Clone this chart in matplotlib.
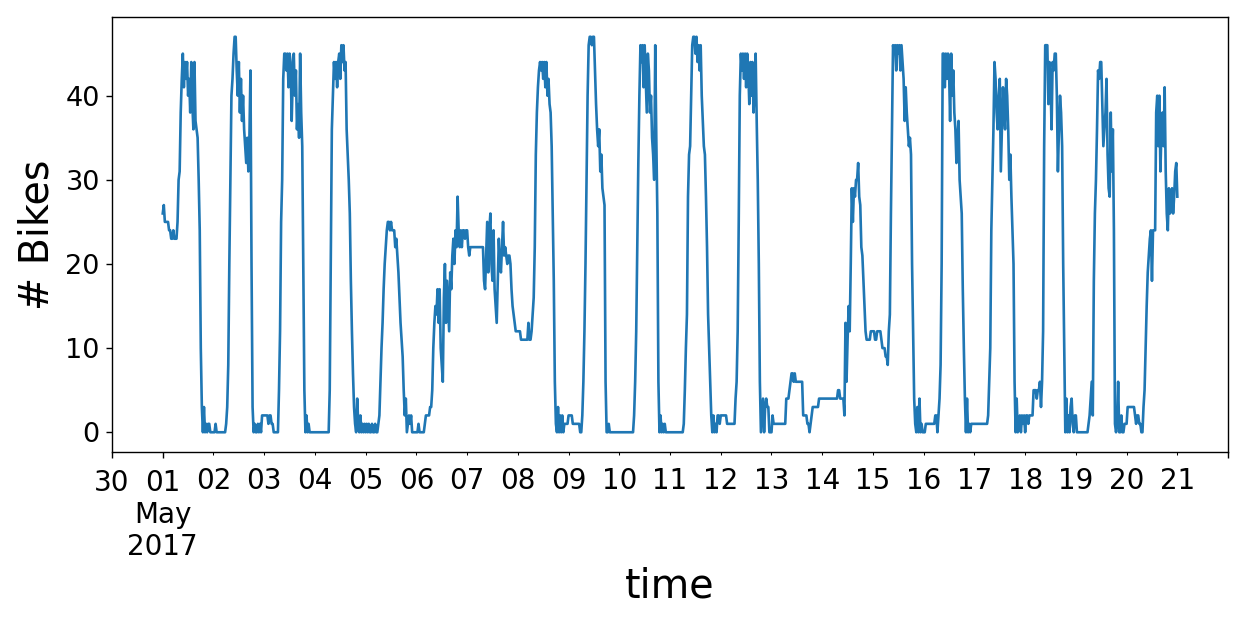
import numpy as np
import pandas as pd
import matplotlib
matplotlib.use('Agg')
import matplotlib.pyplot as plt

# bikes at the station, one value every 30 minutes, one list per day (May 2017)
may01 = [26, 27, 25, 25, 25, 25, 24, 24, 23, 23, 24, 23, 23, 23, 25, 30, 31, 38, 42, 45, 41, 44, 42, 44,
         40, 42, 38, 44, 39, 36, 44, 37, 36, 35, 30, 24, 10, 3, 0, 3, 0, 1, 0, 1, 1, 0, 0, 0]
may02 = [0, 0, 1, 0, 0, 0, 0, 0, 0, 0, 0, 0, 1, 3, 8, 20, 30, 40, 42, 45, 47, 47, 43, 40,
         44, 38, 42, 37, 40, 36, 34, 32, 35, 31, 35, 43, 20, 3, 0, 1, 0, 0, 1, 0, 1, 0, 2, 2]
may03 = [2, 2, 2, 2, 1, 2, 2, 1, 1, 0, 0, 0, 0, 0, 5, 12, 25, 30, 42, 45, 45, 43, 45, 41,
         45, 44, 37, 42, 45, 40, 43, 36, 39, 35, 45, 38, 34, 20, 5, 0, 2, 0, 1, 0, 0, 0, 0, 0]
may04 = [0, 0, 0, 0, 0, 0, 0, 0, 0, 0, 0, 0, 0, 0, 5, 20, 36, 40, 44, 42, 44, 41, 44, 45,
         42, 46, 44, 46, 43, 44, 36, 33, 30, 26, 18, 12, 7, 3, 1, 0, 4, 1, 0, 2, 0, 1, 0, 1]
may05 = [0, 1, 0, 1, 0, 0, 1, 0, 0, 1, 0, 0, 1, 2, 6, 10, 13, 17, 20, 22, 24, 25, 25, 24,
         25, 24, 24, 24, 22, 23, 21, 19, 16, 13, 11, 9, 5, 2, 4, 0, 1, 2, 1, 2, 0, 0, 0, 0]
may06 = [0, 0, 1, 0, 0, 0, 0, 0, 1, 2, 2, 2, 2, 3, 3, 5, 10, 13, 15, 14, 17, 13, 17, 10,
         8, 6, 16, 20, 13, 18, 15, 12, 19, 17, 21, 23, 20, 24, 22, 28, 24, 22, 24, 22, 24, 24, 23, 24]
may07 = [24, 22, 21, 22, 22, 22, 22, 22, 22, 22, 22, 22, 22, 22, 22, 22, 18, 17, 21, 25, 19, 24, 26, 20,
         18, 24, 17, 15, 13, 18, 23, 20, 19, 22, 25, 21, 22, 21, 20, 21, 21, 20, 17, 15, 14, 13, 12, 12]
may08 = [12, 12, 12, 11, 11, 11, 11, 11, 11, 11, 13, 11, 11, 12, 14, 16, 22, 33, 38, 41, 43, 44, 43, 44,
         42, 44, 41, 44, 40, 42, 39, 38, 34, 26, 18, 6, 1, 0, 3, 0, 2, 0, 2, 0, 1, 1, 1, 1]
may09 = [2, 2, 2, 2, 1, 1, 1, 1, 1, 1, 1, 0, 0, 2, 6, 12, 20, 30, 40, 46, 47, 47, 46, 47,
         47, 43, 39, 36, 34, 36, 31, 33, 29, 28, 27, 6, 0, 0, 1, 0, 0, 0, 0, 0, 0, 0, 0, 0]
may10 = [0, 0, 0, 0, 0, 0, 0, 0, 0, 0, 0, 0, 0, 0, 2, 6, 12, 22, 32, 40, 46, 44, 46, 41,
         46, 42, 38, 45, 43, 38, 40, 35, 33, 30, 46, 35, 26, 6, 0, 2, 0, 1, 0, 1, 0, 0, 0, 0]
may11 = [0, 0, 0, 0, 0, 0, 0, 0, 0, 0, 0, 0, 0, 1, 5, 10, 14, 28, 33, 34, 40, 46, 47, 47,
         45, 47, 44, 46, 43, 46, 40, 37, 34, 33, 28, 22, 14, 10, 6, 2, 0, 2, 0, 1, 0, 2, 2, 1]
may12 = [2, 2, 2, 2, 2, 2, 1, 1, 1, 1, 1, 1, 1, 1, 4, 6, 12, 25, 40, 45, 43, 45, 42, 45,
         41, 45, 43, 39, 44, 40, 44, 38, 41, 45, 37, 30, 20, 6, 0, 2, 4, 0, 3, 4, 3, 3, 0, 0]
may13 = [0, 2, 1, 1, 1, 1, 1, 1, 1, 1, 1, 1, 1, 1, 4, 4, 4, 5, 6, 7, 7, 6, 7, 6,
         6, 6, 6, 6, 6, 6, 2, 2, 2, 2, 1, 1, 0, 1, 2, 3, 3, 3, 3, 3, 3, 4, 4, 4]
may14 = [4, 4, 4, 4, 4, 4, 4, 4, 4, 4, 4, 4, 4, 4, 4, 5, 5, 4, 4, 4, 4, 2, 13, 6,
         11, 15, 12, 20, 29, 25, 29, 28, 30, 30, 32, 28, 27, 22, 21, 18, 15, 12, 11, 11, 11, 11, 12, 12]
may15 = [12, 12, 11, 11, 12, 12, 12, 12, 11, 10, 10, 10, 9, 9, 8, 12, 14, 26, 36, 46, 45, 46, 43, 46,
         45, 46, 43, 46, 44, 42, 37, 41, 38, 36, 34, 35, 33, 20, 12, 4, 1, 0, 3, 0, 4, 0, 1, 0]
may16 = [0, 0, 1, 1, 1, 1, 1, 1, 1, 1, 1, 2, 2, 0, 2, 4, 8, 20, 45, 45, 41, 45, 42, 45,
         43, 37, 45, 40, 43, 38, 36, 32, 35, 37, 30, 28, 26, 17, 10, 4, 0, 4, 0, 1, 0, 1, 1, 1]
may17 = [1, 1, 1, 1, 1, 1, 1, 1, 1, 1, 1, 1, 1, 2, 6, 10, 24, 30, 36, 44, 42, 38, 36, 40,
         42, 31, 36, 41, 38, 36, 42, 40, 36, 30, 33, 28, 24, 20, 6, 0, 4, 0, 1, 2, 0, 2, 1, 2]
may18 = [0, 2, 2, 1, 2, 2, 2, 2, 5, 5, 5, 4, 5, 5, 6, 3, 6, 12, 34, 46, 46, 46, 39, 44,
         42, 36, 44, 43, 45, 45, 40, 31, 36, 40, 38, 34, 20, 10, 0, 4, 0, 2, 0, 3, 4, 1, 0, 2]
may19 = [2, 0, 0, 0, 0, 0, 0, 0, 0, 0, 0, 0, 1, 2, 4, 6, 2, 18, 26, 30, 36, 43, 42, 44,
         44, 39, 34, 36, 38, 42, 33, 29, 28, 38, 31, 36, 24, 1, 0, 1, 6, 0, 0, 2, 0, 0, 1, 1]
may20 = [1, 3, 3, 3, 3, 3, 3, 3, 2, 1, 2, 2, 1, 1, 0, 0, 3, 5, 10, 15, 19, 21, 23, 24,
         18, 24, 24, 24, 38, 40, 34, 40, 31, 36, 38, 34, 41, 31, 26, 24, 29, 26, 27, 29, 26, 28, 31, 32, 28]

days = [may01, may02, may03, may04, may05, may06, may07, may08, may09, may10,
        may11, may12, may13, may14, may15, may16, may17, may18, may19, may20]

major_days = ['2017-04-30', '2017-05-01', '2017-05-22']
major_labels = ['30', '01\nMay\n2017', '']
minor_days = ['2017-05-02', '2017-05-03', '2017-05-04', '2017-05-05', '2017-05-06',
              '2017-05-07', '2017-05-08', '2017-05-09', '2017-05-10', '2017-05-11',
              '2017-05-12', '2017-05-13', '2017-05-14', '2017-05-15', '2017-05-16',
              '2017-05-17', '2017-05-18', '2017-05-19', '2017-05-20', '2017-05-21']
minor_labels = ['02', '03', '04', '05', '06', '07', '08', '09', '10', '11',
                '12', '13', '14', '15', '16', '17', '18', '19', '20', '21']

# build the time index, 30 min steps from midnight of each day
start = pd.Timestamp('2017-05-01')
times, bikes = [], []
for i, vals in enumerate(days):
    t0 = start + pd.Timedelta(days=i)
    times.extend(t0 + pd.Timedelta(minutes=30 * k) for k in range(len(vals)))
    bikes.extend(vals)
s = pd.Series(bikes, index=pd.DatetimeIndex(times))

fig = plt.figure(figsize=(12.46, 6.21), dpi=100)
ax = fig.add_axes([0.0899, 0.2721, 0.8957, 0.7005])

ax.plot(s.index.to_pydatetime(), s.values, color='#1f77b4', linewidth=1.9)

ax.set_xlim(pd.Timestamp('2017-04-30'), pd.Timestamp('2017-05-22'))

ax.set_xticks(pd.to_datetime(major_days).to_pydatetime(), major_labels)
ax.set_xticks(pd.to_datetime(minor_days).to_pydatetime(), minor_labels, minor=True)

ax.tick_params(axis='x', which='major', length=4.4, width=1.0, pad=7.5, labelsize=20)
ax.tick_params(axis='x', which='minor', length=2.5, width=0.75, pad=8.5, labelsize=20)
ax.tick_params(axis='y', length=4.4, width=1.0, pad=4.4, labelsize=19.5)
for sp in ax.spines.values():
    sp.set_linewidth(1.0)

ax.set_xlabel('time', fontsize=28.5, labelpad=3.5)
ax.set_ylabel('# Bikes', fontsize=28.5, labelpad=5.5)

fig.savefig('out.png', dpi=100)
